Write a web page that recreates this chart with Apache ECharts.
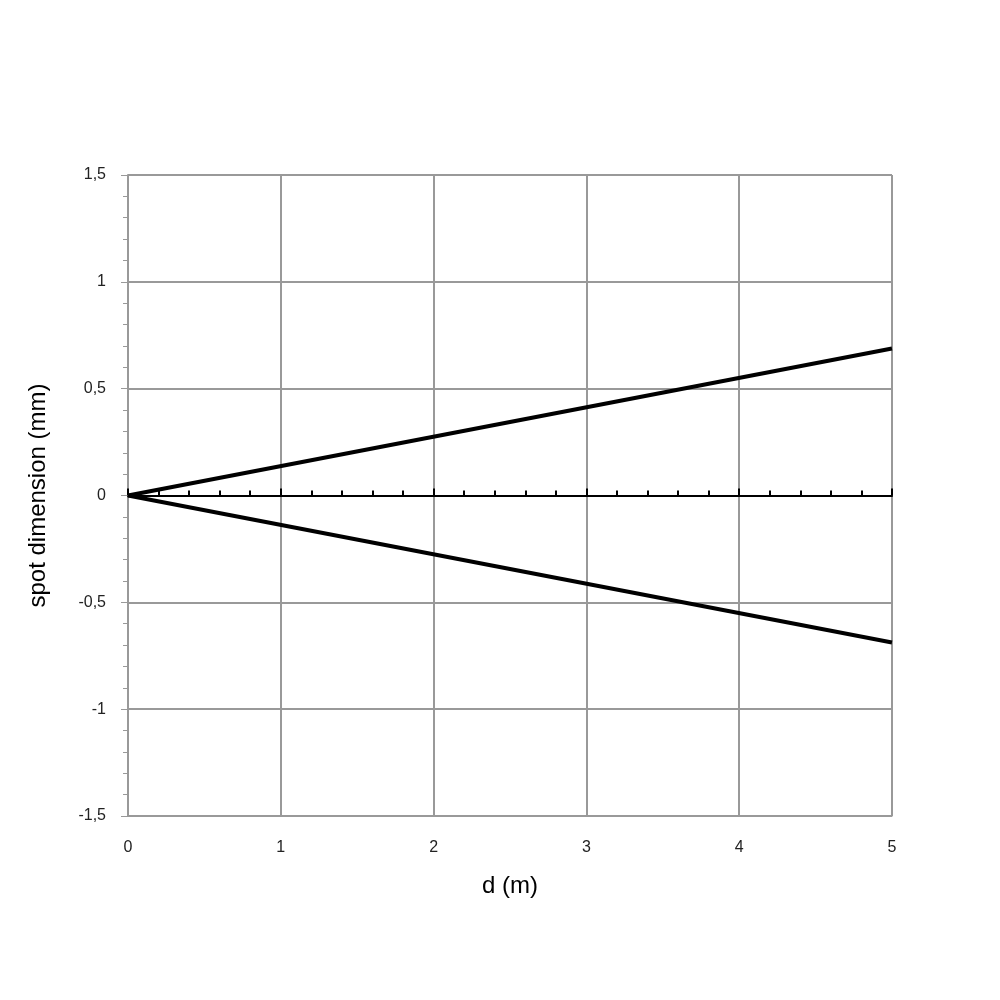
<!DOCTYPE html>
<html><head><meta charset="utf-8">
<script src="https://cdn.jsdelivr.net/npm/echarts@6/dist/echarts.min.js"></script>
<style>html,body{margin:0;background:#fff}#c{width:1000px;height:1000px}</style>
</head><body><div id="c"></div>
<script>
var distances = [0, 5];
var upper = [0, 0.688];
var lower = [0, -0.688];

var chart = echarts.init(document.getElementById('c'));
function pairs(ys) { return distances.map(function (d, i) { return [d, ys[i]]; }); }
function comma(v) { return String(v).replace('.', ','); }

chart.setOption({
  animation: false,
  grid: { left: 128, right: 108, top: 175, bottom: 184 },
  xAxis: [{
    type: 'value', min: 0, max: 5, interval: 1,
    name: 'd (m)', nameLocation: 'middle', nameGap: 58,
    nameTextStyle: { fontSize: 24, color: '#000', fontFamily: 'Liberation Sans' },
    axisLine: { onZero: false, lineStyle: { color: '#999' } },
    axisTick: { show: false },
    axisLabel: { fontSize: 16, color: '#222', margin: 24, fontFamily: 'Liberation Sans' },
    splitLine: { show: true, lineStyle: { color: '#999', width: 2 } }
  }, {
    type: 'value', min: 0, max: 5, interval: 1, position: 'bottom',
    axisLine: { onZero: true, lineStyle: { color: '#000', width: 2 } },
    axisTick: { show: true, inside: true, length: 7, lineStyle: { color: '#000', width: 2 } },
    minorTick: { show: true, splitNumber: 5, length: 5, lineStyle: { color: '#000', width: 2 } },
    axisLabel: { show: false },
    splitLine: { show: false }
  }],
  yAxis: {
    type: 'value', min: -1.5, max: 1.5, interval: 0.5,
    name: 'spot dimension (mm)', nameLocation: 'middle', nameGap: 78,
    nameTextStyle: { fontSize: 24, color: '#000', fontFamily: 'Liberation Sans' },
    axisLine: { show: true, lineStyle: { color: '#999', width: 2 } },
    axisTick: { show: true, length: 7, lineStyle: { color: '#999' } },
    minorTick: { show: true, splitNumber: 5, length: 5, lineStyle: { color: '#999' } },
    axisLabel: { fontSize: 16, color: '#222', margin: 22, formatter: comma, fontFamily: 'Liberation Sans' },
    splitLine: { show: true, lineStyle: { color: '#999', width: 2 } }
  },
  series: [
    { type: 'line', data: pairs(upper), symbol: 'none', lineStyle: { color: '#000', width: 4 } },
    { type: 'line', data: pairs(lower), symbol: 'none', lineStyle: { color: '#000', width: 4 } }
  ]
});
</script></body></html>
